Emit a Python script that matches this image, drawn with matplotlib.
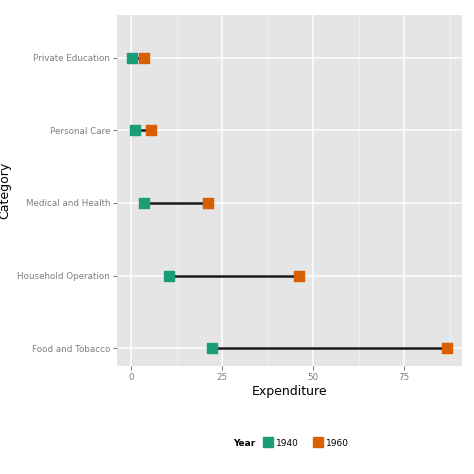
import matplotlib
matplotlib.use("Agg")
import matplotlib.pyplot as plt
from matplotlib.lines import Line2D

categories = ["Food and Tobacco", "Household Operation", "Medical and Health", "Personal Care", "Private Education"]
y1940 = [22.2, 10.5, 3.53, 1.04, 0.341]
y1960 = [86.8, 46.2, 21.1, 5.4, 3.64]
years = ["1940", "1960"]
colors = ["#1b9e77", "#d95f02"]

fig = plt.figure(figsize=(4.74, 4.74), dpi=100)
ax = fig.add_axes([117/474, 1-366/474, (462-117)/474, (366-15)/474])
ax.set_facecolor("#e5e5e5")
ypos = list(range(1, len(categories)+1))
ax.set_xlim(-3.85, 90.9)
ax.set_ylim(1-18/72.5, 5+43/72.5)
for x in [12.5, 37.5, 62.5, 87.5]:
    ax.axvline(x, color="#f2f2f2", lw=0.5, zorder=0)
for x in [0, 25, 50, 75]:
    ax.axvline(x, color="white", lw=1.1, zorder=0)
for y in ypos:
    ax.axhline(y, color="white", lw=1.1, zorder=0)
for y, a, b in zip(ypos, y1940, y1960):
    ax.plot([a, b], [y, y], color="#1a1a1a", lw=1.8, zorder=2)
ax.scatter(y1940, ypos, marker="s", s=45, color=colors[0], zorder=3)
ax.scatter(y1960, ypos, marker="s", s=45, color=colors[1], zorder=3)
ax.set_xticks([0, 25, 50, 75])
ax.set_yticks(ypos)
ax.set_yticklabels(categories)
ax.tick_params(colors="#7f7f7f", labelsize=6.3, length=3, labelcolor="#7f7f7f", pad=2)
for s in ax.spines.values():
    s.set_visible(False)
ax.set_xlabel("Expenditure", fontsize=9, labelpad=2)
ax.set_ylabel("Category", fontsize=9, labelpad=4)

handles = [Line2D([], [], marker="s", ls="", color=c, markersize=7) for c in colors]
fig.text(233/474, 1-443/474, "Year", fontsize=6.5, fontweight="bold", va="center")
leg = fig.legend(handles, years, loc="center left", bbox_to_anchor=(258/474, 1-443/474),
                 ncol=2, frameon=False, fontsize=6.5, handletextpad=0.3, columnspacing=1.5,
                 borderpad=0, handlelength=1.2)
fig.savefig("out.png", dpi=100, facecolor="white")
